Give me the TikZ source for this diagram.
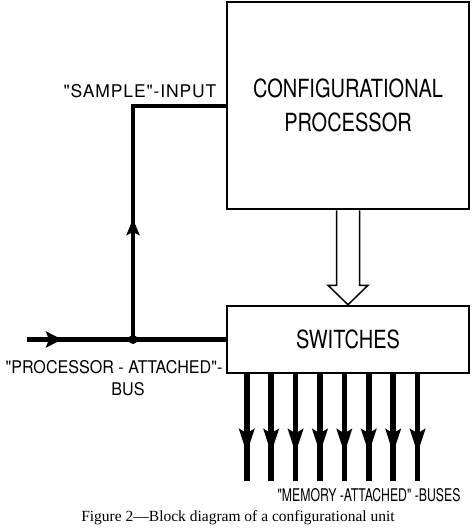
\documentclass[tikz,border=0pt]{standalone}
\usepackage{fontspec}
\setmainfont{Liberation Serif}
\newfontfamily\lettering[LetterSpace=5]{TeX Gyre Heros}
\newfontfamily\busletter[FakeStretch=0.92]{TeX Gyre Heros}
\newfontfamily\memletter[FakeStretch=0.7]{TeX Gyre Heros}
\newfontfamily\narrowlettering[FakeStretch=0.8]{TeX Gyre Heros}
\newcommand\labelsize{\fontsize{17.5}{21}\selectfont}
\usetikzlibrary{arrows.meta,calc}

\begin{document}
\begin{tikzpicture}[x=1pt,y=-1pt]
	\tikzstyle{block} = [draw, line width=2.5pt, inner sep=0pt]
	\tikzstyle{big} = [font=\narrowlettering\fontsize{25}{34}\selectfont, align=center]
	\tikzstyle{small} = [inner sep=0pt]
	\tikzstyle{wire} = [line width=4pt]
	\tikzstyle{bus} = [line width=5.5pt]
	\tikzstyle{headin} = [-{Stealth[length=16pt,width=16pt,inset=3pt]}]
	\tikzstyle{headup} = [-{Stealth[length=16pt,width=13pt,inset=3pt]}]
	\tikzstyle{headout} = [-{Stealth[length=24pt,width=15pt,inset=4pt]}]

	\useasboundingbox (0,0) rectangle (474,528);

	\draw (348,105.5) node[block, big, minimum width=242pt, minimum height=207pt] (proc) {CONFIGURATIONAL\\PROCESSOR};
	\draw (348,339.5) node[block, big, minimum width=242pt, minimum height=67pt] (sw) {SWITCHES};

	% hollow arrow
	\draw[line width=1.5pt, fill=white] ($(proc.south)+(-11.5,0)$) -- ($(proc.south)+(-11.5,75)$)
		-- ($(proc.south)+(-20,75)$) -- (sw.north) -- ($(proc.south)+(20,75)$)
		-- ($(proc.south)+(11.5,75)$) -- ($(proc.south)+(11.5,0)$);

	% processor bus and sample input
	\coordinate (busin) at (27,339.5);
	\coordinate (busarr) at (62,339.5);
	\coordinate (tap) at (133,339.5);
	\coordinate (uparr) at (133,219);
	\draw[bus] (busin) -- (sw.west);
	\draw[bus, headin] (busin) -- (busarr);
	\draw[wire] (tap) |- (proc.west);
	\draw[wire, headup] (tap) -- (uparr);
	\fill (tap) circle (4.5pt);

	% memory buses
	\foreach \i in {0,...,7} {
		\coordinate (top\i) at ($(sw.south west)+(21+24.4*\i,0)$);
		\coordinate (mid\i) at ($(top\i)+(0,79)$);
		\coordinate (end\i) at ($(top\i)+(0,107)$);
		\draw[bus] (top\i) -- (end\i);
		\draw[bus, headout] (top\i) -- (mid\i);
	}

	\draw (140,91) node[small, font=\lettering\labelsize] (samplelbl) {"SAMPLE"-INPUT};
	\draw (114,367) node[small, font=\busletter\labelsize] (buslbl) {"PROCESSOR - ATTACHED"-};
	\draw (128,389) node[small, font=\busletter\labelsize] (buslbltwo) {BUS};
	\draw (369,495) node[small, font=\memletter\labelsize] (memlbl) {"MEMORY -ATTACHED" -BUSES};
	\draw (238,518) node[font=\fontsize{15.5}{18}\selectfont] (caption) {Figure 2—Block diagram of a configurational unit};
\end{tikzpicture}
\end{document}
